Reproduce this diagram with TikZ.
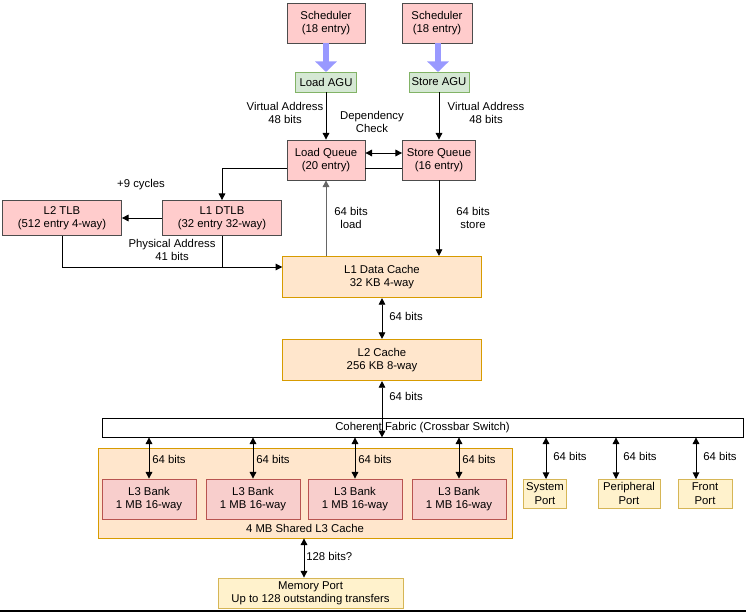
\documentclass[tikz,border=0pt]{standalone}
\usepackage{fontspec}
\setmainfont{Liberation Sans}
\usetikzlibrary{arrows.meta}
\definecolor{rfill}{HTML}{FFCCCC}
\definecolor{bfill}{HTML}{F8CECC}
\definecolor{bdraw}{HTML}{B85450}
\definecolor{gfill}{HTML}{D5E8D4}
\definecolor{gdraw}{HTML}{82B366}
\definecolor{ofill}{HTML}{FFE6CC}
\definecolor{odraw}{HTML}{D79B00}
\definecolor{yfill}{HTML}{FFF2CC}
\definecolor{ydraw}{HTML}{D6B656}
\definecolor{bigarr}{HTML}{9999FF}
\begin{document}
\begin{tikzpicture}[x=0.75pt,y=-0.75pt,font=\fontsize{8.5}{10}\selectfont,
  box/.style={draw=#1,line width=0.6pt,align=center,inner sep=0pt,anchor=center},
  red/.style={box=black!70,fill=rfill},
  bank/.style={box=bdraw,fill=bfill,minimum width=70.5pt,minimum height=30pt},
  grn/.style={box=gdraw,fill=gfill,minimum height=15pt},
  org/.style={box=odraw,fill=ofill,minimum width=149pt,minimum height=31pt},
  yel/.style={box=ydraw,fill=yfill},
  arr/.style={-{Triangle[length=5pt,width=5pt]},line width=0.7pt},
  darr/.style={{Triangle[length=5pt,width=5pt]}-{Triangle[length=5pt,width=5pt]},line width=0.7pt},
  lbl/.style={align=center,inner sep=0pt}]
\useasboundingbox (0,0) rectangle (746,613);
% top
\node[red,minimum width=58.5pt,minimum height=30pt] (s1) at (326,23) {Scheduler\\(18 entry)};
\node[red,minimum width=52.5pt,minimum height=30pt] (s2) at (437,23) {Scheduler\\(18 entry)};
\node[grn,minimum width=45.75pt] (la) at (326,82) {Load AGU};
\node[grn,minimum width=45pt] (sa) at (439,82) {Store AGU};
\draw[bigarr,line width=5pt,-{Triangle[length=8pt,width=16pt]}] (s1.south) -- (326,72);
\draw[bigarr,line width=5pt,-{Triangle[length=8pt,width=16pt]}] (s2.south) ++(1,0) -- (438,72);
\node[red,minimum width=58.5pt,minimum height=30pt] (lq) at (326,160) {Load Queue\\(20 entry)};
\node[red,minimum width=54.75pt,minimum height=30pt] (sq) at (439,160) {Store Queue\\(16 entry)};
\draw[arr] (la) -- (lq);
\draw[arr] (sa) -- (sq);
\node[lbl] (va1) at (285,113) {Virtual Address\\48 bits};
\node[lbl] (va2) at (486,113) {Virtual Address\\48 bits};
\node[lbl] (dc) at (372,122) {Dependency\\Check};
\draw[darr] (lq.east |- 0,153) -- (sq.west |- 0,153);
\draw[line width=0.7pt] (lq.east |- 0,168) -- (sq.west |- 0,168);
% TLBs
\node[red,minimum width=89.25pt,minimum height=26.25pt] (l1t) at (222,218) {L1 DTLB\\(32 entry 32-way)};
\node[red,minimum width=89.25pt,minimum height=26.25pt] (l2t) at (62,218) {L2 TLB\\(512 entry 4-way)};
\draw[arr] (lq.west |- 0,168) -| (l1t.north);
\draw[arr] (l1t) -- (l2t);
\node[lbl] (c9) at (141,185) {+9 cycles};
\node[org] (l1d) at (382,277) {L1 Data Cache\\32 KB 4-way};
\coordinate (j) at (222,267);
\draw[arr] (l2t.south) |- (l1d.west |- j);
\draw[line width=0.7pt] (l1t.south) -- (j);
\node[lbl] (pa) at (172,250) {Physical Address\\41 bits};
\draw[arr,draw=black!60] (l1d.north -| lq) -- (lq.south);
\node[lbl] (ld) at (351,218) {64 bits\\load};
\draw[arr] (sq.south) -- (l1d.north -| sq);
\node[lbl] (st) at (473,218) {64 bits\\store};
% L2
\node[org] (l2) at (382,360) {L2 Cache\\256 KB 8-way};
\draw[darr] (l1d) -- (l2);
\node[lbl] (b1) at (406,316) {64 bits};
\node[box=black,fill=white,minimum width=480.75pt,minimum height=14.25pt] (fab) at (422.5,427.5) {Coherent Fabric (Crossbar Switch)};
\draw[darr] (l2) -- (fab.south -| l2) ; 
\node[lbl] (b2) at (406,396) {64 bits};
% L3
\node[box=odraw,fill=ofill,minimum width=310.5pt,minimum height=67.5pt] (l3) at (305,493) {};
\node[lbl] (l3l) at (305,528) {4 MB Shared L3 Cache};
\foreach \n/\x in {1/149,2/253,3/355,4/459}{
  \node[bank] (bk\n) at (\x,499) {L3 Bank\\1 MB 16-way};
  \draw[darr] (fab.south -| bk\n) -- (bk\n.north);
  \node[lbl,anchor=west] (bl\n) at (\x+3,459) {64 bits};
}
\node[yel,minimum width=32.25pt,minimum height=21.75pt] (sys) at (545,493.5) {System\\Port};
\node[yel,minimum width=46.5pt,minimum height=21.75pt] (per) at (629,493.5) {Peripheral\\Port};
\node[yel,minimum width=40.5pt,minimum height=21.75pt] (fr) at (705,493.5) {Front\\Port};
\foreach \n/\x in {sys/546,per/616,fr/696}{
  \coordinate (t\n) at (\x,479);
  \draw[darr] (fab.south -| t\n) -- (t\n);
  \node[lbl,anchor=west] (pl\n) at (\x+7,456) {64 bits};
}
\node[yel,minimum width=138.75pt,minimum height=22.5pt] (mem) at (310.5,593) {Memory Port\\Up to 128 outstanding transfers};
\draw[darr] (l3.south -| 304,0) -- (mem.north -| 304,0);
\node[lbl,anchor=west] (ml) at (306,556) {128 bits?};
\draw[line width=0.8pt] (0,611) -- (746,611);
\end{tikzpicture}
\end{document}
